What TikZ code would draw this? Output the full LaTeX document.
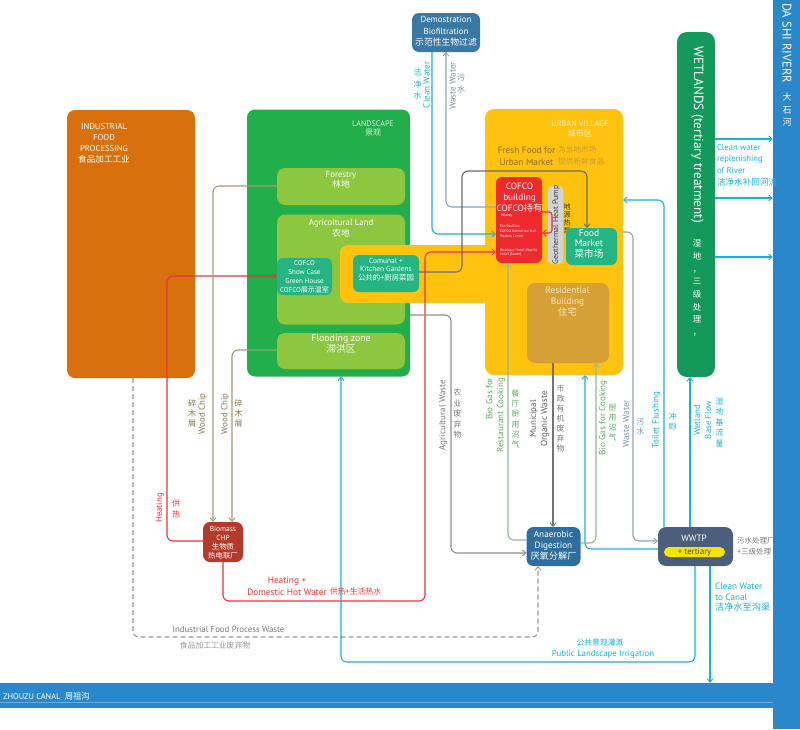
\documentclass[tikz,border=0pt]{standalone}
\usepackage{fontspec}
\setmainfont{PT Sans}
\newfontfamily\cjk{Noto Sans CJK SC}
\usetikzlibrary{arrows.meta}
\newcommand\fsz[2]{\fontsize{#1}{#2}\selectfont}
\definecolor{cOrange}{HTML}{D9700E}
\definecolor{cLand}{HTML}{22AE4B}
\definecolor{cLandT}{HTML}{D8F2DC}
\definecolor{cLight}{HTML}{8DC63F}
\definecolor{cTeal}{HTML}{25B584}
\definecolor{cYellow}{HTML}{FFC20E}
\definecolor{cUrbT}{HTML}{FCEFC4}
\definecolor{cFreshE}{HTML}{8E6C22}
\definecolor{cFreshC}{HTML}{C99A3C}
\definecolor{cRed}{HTML}{EE2A2E}
\definecolor{cHeat}{HTML}{E8333A}
\definecolor{cGeo}{HTML}{D1D3D4}
\definecolor{cResid}{HTML}{D5A035}
\definecolor{cResT}{HTML}{FBEBC6}
\definecolor{cBio}{HTML}{3A78A5}
\definecolor{cWet}{HTML}{139A5B}
\definecolor{cRiver}{HTML}{2A87C9}
\definecolor{cRiverL}{HTML}{6AAEDF}
\definecolor{cAna}{HTML}{2D6EA0}
\definecolor{cWWTP}{HTML}{4B5F7D}
\definecolor{cCHP}{HTML}{B43A2B}
\definecolor{cCyan}{HTML}{19B2D5}
\definecolor{cGray}{HTML}{8E8E8E}
\definecolor{cGrayT}{HTML}{7A7A7A}
\definecolor{cWaste}{HTML}{8CA5B6}
\definecolor{cWasteT}{HTML}{7893A6}
\definecolor{cGas}{HTML}{8DBB93}
\definecolor{cGasT}{HTML}{5CAA5E}
\definecolor{cWood}{HTML}{A89B77}
\definecolor{cWoodT}{HTML}{857551}
\definecolor{cPill}{HTML}{F4E400}
\begin{document}
\begin{tikzpicture}[x=1pt,y=-1pt,
  box/.style={inner sep=0pt, outer sep=0pt, rounded corners=#1},
  box/.default=7pt,
  txt/.style={inner sep=0pt, outer sep=0pt, align=center},
  conn/.style={line width=1.1pt, rounded corners=6pt, -{Straight Barb[length=3.5pt,width=6pt,line width=0.9pt]}},
  lnCyan/.style={conn, draw=cCyan},
  lnRed/.style={conn, draw=cHeat},
  lnGray/.style={conn, draw=cGray},
  lnWaste/.style={conn, draw=cWaste},
  lnGas/.style={conn, draw=cGas},
  lnWood/.style={conn, draw=cWood}]
\useasboundingbox (0,0) rectangle (800,729);
\fill[white] (0,0) rectangle (800,729);

% ---- water bodies
\node[fill=cRiver, inner sep=0, minimum width=27pt, minimum height=729pt] (river) at (786.5,364.5) {};
\node[fill=cRiver, inner sep=0, minimum width=773pt, minimum height=25pt] (canal) at (386.5,695.5) {};
\draw[cRiverL, line width=0.7pt] (0,702) -- (773,702);
\node[txt, rotate=-90, anchor=west, text=white, font=\fsz{12.5}{14}] (riverT) at (787,3) {DA SHI RIVERR};
\node[txt, text=white, font={\cjk\fsz{9}{12.5}}] (riverC) at (787,110) {大\\石\\河};
\node[txt, anchor=west, text=white, font=\fsz{8.3}{9}] (canalT) at (3,696) {ZHOUZU CANAL\ \ {\cjk 周祖沟}};

% ---- industrial food processing
\node[box=8pt, fill=cOrange, minimum width=128pt, minimum height=268pt] (ifp) at (131,244) {};
\node[txt, text=white, font=\fsz{8.6}{11}] (ifpT) at (104,143) {INDUSTRIAL\\FOOD\\PROCESSING\\{\cjk 食品加工工业}};

% ---- landscape
\node[box=8pt, fill=cLand, minimum width=163pt, minimum height=267pt] (land) at (328.5,243) {};
\node[txt, text=cLandT, font=\fsz{8}{9.5}] (landT) at (373,128.5) {LANDSCAPE\\{\cjk 景观}};
\node[box=8pt, fill=cLight, minimum width=128pt, minimum height=37pt] (forest) at (341,186.5) {};
\node[txt, text=white, font=\fsz{8.8}{10}] (forestT) at (341,180) {Forestry\\{\cjk 林地}};
\node[box=8pt, fill=cLight, minimum width=128pt, minimum height=110pt] (agri) at (341,269.5) {};
\node[txt, text=white, font=\fsz{8.8}{10.5}] (agriT) at (341,228) {Agricoltural Land\\{\cjk 农地}};
\node[box=8pt, fill=cLight, minimum width=128pt, minimum height=36pt] (flood) at (341,351) {};
\node[txt, text=white!92!cLight, font=\fsz{9.8}{10}] (floodT) at (341,344) {Flooding zone\\{\cjk 滞洪区}};
% yellow band
\fill[cYellow, rounded corners=8pt] (340,245) rectangle (495,303);
\node[box=6pt, fill=cTeal, minimum width=55pt, minimum height=37pt] (show) at (304.5,276.5) {};
\node[txt, text=white, font=\fsz{7}{9}] (showT) at (304.5,277) {COFCO\\Show Case\\Green House\\COFCO{\cjk 展示温室}};
\node[box=6pt, fill=cTeal, minimum width=66pt, minimum height=37pt] (com) at (386,273.5) {};
\node[txt, text=white, font=\fsz{7.4}{8.7}] (comT) at (386,269.5) {Comunal +\\Kitchen Gardens\\{\cjk 公共的+厨房菜园}};

% ---- urban village
\node[box=9pt, fill=cYellow, minimum width=138pt, minimum height=266pt] (urban) at (554,242) {};
\node[txt, text=cUrbT, font=\fsz{8.2}{10}] (urbanT) at (580,129) {URBAN VILLAGE\\{\cjk 城市区}};
\node[txt, text=cFreshE, font=\fsz{9.3}{12}] (freshE) at (526.5,156) {Fresh Food for\\Urban Market};
\node[txt, anchor=west, align=left, text=cFreshC, font={\cjk\fsz{7.7}{12}}] (freshC) at (558,156) {为当地市场\\提供新鲜食品};
\node[box=6pt, fill=cRed, minimum width=46pt, minimum height=86pt] (cofco) at (519,220) {};
\node[txt, text=white, font=\fsz{9.2}{11}] (cofcoT) at (519.5,198) {COFCO\\building\\COFCO{\cjk 持有}};
\node[txt, anchor=west, text=white, font=\fsz{3.8}{4.4}] (cofW) at (501,216) {Winery};
\node[txt, anchor=west, align=left, text=white, font=\fsz{3.8}{4.8}] (cofE) at (500,231) {Eco Pavilion\\COFCO Exhibition Hall\\Visitors Center};
\node[txt, anchor=west, align=left, text=white, font=\fsz{3.8}{4.8}] (cofH) at (500,252.5) {Boutique Hotel (North)\\Hotel (South)};
\node[box=4pt, fill=cGeo, minimum width=15pt, minimum height=78pt] (geo) at (555.5,225) {};
\node[txt, rotate=90, text=black!75, font=\fsz{7.9}{9}] (geoT) at (556,225) {Geothermal Heat Pump};
\node[txt, text=black!80, font={\cjk\fsz{7}{8}}] (geoC) at (567,219) {地\\源\\热\\泵};
\node[box=6pt, fill=cTeal, minimum width=51pt, minimum height=37pt] (market) at (591.5,246.5) {};
\node[txt, text=white, font=\fsz{9.6}{10.5}] (marketT) at (589,244) {Food\\Market\\{\cjk 菜市场}};
\node[box=8pt, fill=cResid, minimum width=82pt, minimum height=80pt] (resid) at (568,323) {};
\node[txt, text=cResT, font=\fsz{9.3}{11}] (residT) at (567.5,302) {Residential\\Building\\{\cjk 住宅}};

% ---- biofiltration
\node[box=7pt, fill=cBio, minimum width=68pt, minimum height=39pt] (biof) at (446,32.5) {};
\node[txt, text=white, font=\fsz{8.8}{11.5}] (biofT) at (446,31.5) {Demostration\\Biofiltration\\{\cjk 示范性生物过滤}};

% ---- wetlands
\node[box=10pt, fill=cWet, minimum width=38pt, minimum height=345pt] (wet) at (696,204.5) {};
\node[txt, rotate=-90, anchor=west, text=white, font=\fsz{13.3}{14}] (wetT) at (697.5,46) {WETLANDS (tertiary treatment)};
\node[txt, text=white, font={\cjk\fsz{8.5}{12.7}}] (wetC) at (697,288) {湿\\地\\，\\三\\级\\处\\理\\，};
\node[txt, anchor=west, align=left, text=cCyan, font=\fsz{8.6}{11.8}] (replT) at (717,165) {Clean water\\replenishing\\of River\\{\cjk 洁净水补回河流}};

% ---- processing plants
\node[box=7pt, fill=cAna, minimum width=54pt, minimum height=39pt] (ana) at (553.5,546.5) {};
\node[txt, text=white, font=\fsz{9.2}{11}] (anaT) at (553.5,546) {Anaerobic\\Digestion\\{\cjk 厌氧分解厂}};
\node[box=8pt, fill=cWWTP, minimum width=75pt, minimum height=39pt] (wwtp) at (695.5,546.5) {};
\node[txt, text=white, font=\fsz{9.2}{10}] (wwtpT) at (694,538.5) {WWTP};
\node[box=5pt, fill=cPill, minimum width=61pt, minimum height=10pt, text=black!70, font=\fsz{8.6}{9}] (pill) at (694.5,552) {+ tertiary};
\node[txt, anchor=west, align=left, text=cGrayT, font={\cjk\fsz{7.5}{11}}] (wwtpC) at (737,546.5) {污水处理厂\\+三级处理};
\node[box=7pt, fill=cCHP, minimum width=40pt, minimum height=40pt] (chp) at (223,542) {};
\node[txt, text=white, font=\fsz{7.4}{9}] (chpT) at (223,542.5) {Biomass\\CHP\\{\cjk 生物质}\\{\cjk 热电联厂}};

% ---- connectors
\draw[lnCyan] (biof.south -| 432,0) -- (432,234) -- (cofco.west |- 0,234);
\draw[lnWaste] (cofco.west |- 0,207) -- (446,207) -- (biof.south -| 446,0);
\draw[conn, draw=gray!85!black] (com.east |- 0,272) -- (462,272) -- (462,171) -- (587,171) -- (market.north -| 587,0);
\draw[lnRed] (chp.west |- 0,541) -- (167,541) -- (167,276) -- (show.west |- 0,276);
\draw[lnRed] (chp.south) -- (223,601) -- (425,601) -- (425,252) -- (cofco.west |- 0,252);
\draw[lnRed, rounded corners=3pt] (cofco.east |- 0,212) -- (552,212) -- (552,233) -- (cofco.east |- 0,233);
\draw[lnWood] (forest.west |- 0,186) -- (213,186) -- (chp.north -| 213,0);
\draw[lnWood] (flood.west |- 0,350) -- (232,350) -- (chp.north -| 232,0);
\draw[conn, draw=gray!80, dash pattern=on 5pt off 3pt] (ifp.south -| 133,0) -- (133,637) -- (538,637) -- (ana.south -| 538,0);
\draw[lnCyan] (wwtp.south -| 695,0) -- (695,662) -- (341,662) -- (land.south -| 341,0);
\draw[lnCyan] (wwtp.south -| 710,0) -- (canal.north -| 710,0);
\draw[lnCyan] (wwtp.north -| 690,0) -- (wet.south -| 690,0);
\draw[lnCyan] (wet.east |- 0,139) -- (river.west |- 0,139);
\draw[lnCyan] (wet.east |- 0,198) -- (river.west |- 0,198);
\draw[lnCyan] (wet.east |- 0,257) -- (river.west |- 0,257);
\draw[lnCyan] (wwtp.north -| 664,0) -- (664,200) -- (urban.east |- 0,200);
\draw[lnCyan] (wwtp.west |- 0,549) -- (585,549) -- (urban.south -| 585,0);
\draw[lnWaste] (urban.east |- 0,232) -- (633,232) -- (633,541) -- (wwtp.west |- 0,541);
\draw[lnGray] (land.east |- 0,315) -- (451,315) -- (451,553) -- (ana.west |- 0,553);
\draw[lnGas] (ana.west |- 0,540) -- (508,540) -- (cofco.south -| 508,0);
\draw[conn, draw=gray!90!black] (resid.south -| 553,0) -- (ana.north -| 553,0);
\draw[lnGas] (ana.east |- 0,543) -- (596,543) -- (resid.south -| 596,0);

% ---- connector labels
\node[txt, rotate=90, text=cCyan, font=\fsz{9}{10}] (cwT) at (426.5,85) {Clean Water};
\node[txt, text=cCyan, font={\cjk\fsz{8}{11.5}}] (cwC) at (417.5,84) {洁\\净\\水};
\node[txt, rotate=90, text=cWasteT, font=\fsz{9}{10}] (wwT) at (452.5,86) {Waste Water};
\node[txt, text=cWasteT, font={\cjk\fsz{8}{12}}] (wwC) at (461,84) {污\\水};

\node[txt, rotate=90, text=cHeat, font=\fsz{8.8}{10}] (heatT) at (160,508) {Heating};
\node[txt, text=cHeat, font={\cjk\fsz{8}{10.5}}] (heatC) at (176,509) {供\\热};
\node[txt, text=cHeat, font=\fsz{9.3}{12}] (dhwT) at (287,586) {Heating +\\Domestic Hot Water};
\node[txt, anchor=west, text=cHeat, font={\cjk\fsz{7.8}{9}}] (dhwC) at (330,592) {供热+生活热水};

\node[txt, text=cWoodT, font={\cjk\fsz{8}{10}}] (wc1C) at (192,413) {碎\\木\\屑};
\node[txt, rotate=90, text=cWoodT, font=\fsz{8.8}{10}] (wc1T) at (202.5,414) {Wood Chip};
\node[txt, rotate=90, text=cWoodT, font=\fsz{8.8}{10}] (wc2T) at (225,414) {Wood Chip};
\node[txt, text=cWoodT, font={\cjk\fsz{8}{10}}] (wc2C) at (238.5,413) {碎\\木\\屑};

\node[txt, text=cGrayT, font=\fsz{8.8}{10}] (ifwT) at (228.5,629) {Industrial Food Process Waste};
\node[txt, text=gray!80, font={\cjk\fsz{7.8}{9}}] (ifwC) at (215,646) {食品加工工业废弃物};

\node[txt, text=cCyan, font={\cjk\fsz{7.8}{9}}] (irrC) at (600,643) {公共景观灌溉};
\node[txt, text=cCyan, font=\fsz{8.8}{10}] (irrT) at (603,654.5) {Public Landscape Irrigation};
\node[txt, anchor=west, align=left, text=cCyan, font=\fsz{9.2}{10.5}] (canT) at (715,597.5) {Clean Water\\to Canal\\{\cjk 洁净水至沟渠}};

\node[txt, rotate=90, text=cGrayT, font=\fsz{9}{10}] (agwT) at (443,415) {Agricultural Waste};
\node[txt, text=cGrayT, font={\cjk\fsz{7.8}{10.5}}] (agwC) at (457.5,414) {农\\业\\废\\弃\\物};
\node[txt, rotate=90, anchor=east, align=right, text=cGasT, font=\fsz{9}{11}] (bgrT) at (495.5,378) {Bio Gas for\\Restaurant Cooking};
\node[txt, text=cGasT, font={\cjk\fsz{7.8}{10.3}}] (bgrC) at (515.5,419) {餐\\厅\\厨\\用\\沼\\气};
\node[txt, rotate=90, text=cGrayT!80!black, font=\fsz{9}{11}] (mowT) at (539.5,419) {Municipal\\Organic Waste};
\node[txt, text=cGrayT, font={\cjk\fsz{7.8}{10}}] (mowC) at (560.5,418) {市\\政\\有\\机\\废\\弃\\物};
\node[txt, rotate=90, text=cGasT, font=\fsz{9}{10}] (bgcT) at (603,418) {Bio Gas for Cooking};
\node[txt, text=cGasT, font={\cjk\fsz{7.8}{10}}] (bgcC) at (612.5,423) {厨\\用\\沼\\气};
\node[txt, rotate=90, text=cWasteT, font=\fsz{9}{10}] (wwlT) at (626,424) {Waste Water};
\node[txt, text=cWasteT, font={\cjk\fsz{7.8}{10}}] (wwlC) at (640.5,427) {污\\水};
\node[txt, rotate=90, text=cCyan, font=\fsz{9}{10}] (tfT) at (656.5,420) {Toilet Flushing};
\node[txt, text=cCyan, font={\cjk\fsz{7.8}{10}}] (tfC) at (672.5,422) {冲\\厕};
\node[txt, rotate=90, text=cCyan, font=\fsz{8.8}{11}] (wbfT) at (702.5,420) {Wetland\\Base Flow};
\node[txt, text=cCyan, font={\cjk\fsz{7.8}{10.5}}] (wbfC) at (719.5,422) {湿\\地\\基\\流\\量};
\end{tikzpicture}
\end{document}
